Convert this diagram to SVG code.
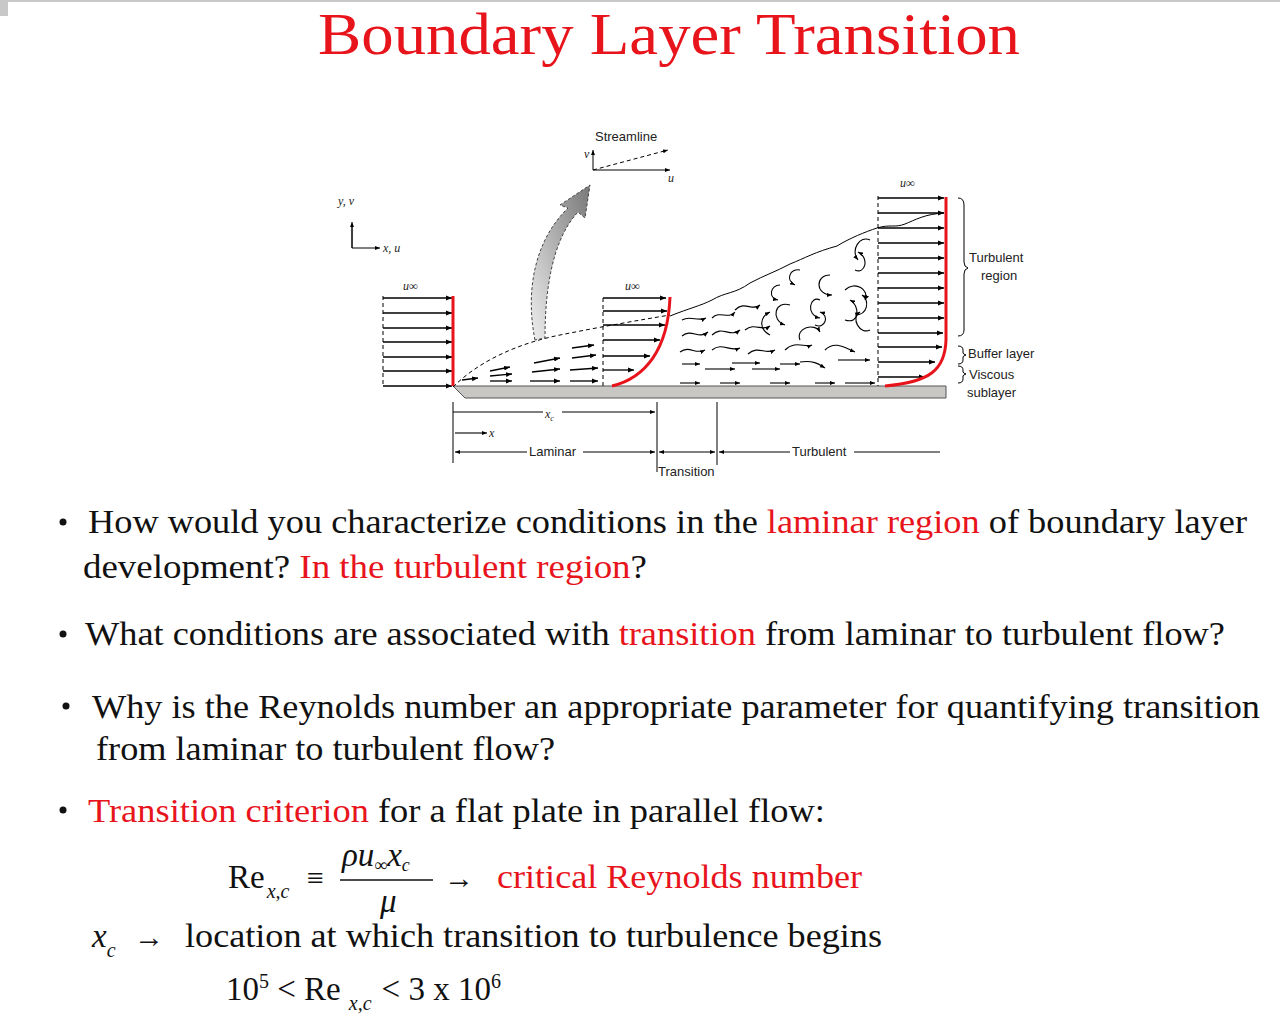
<svg xmlns="http://www.w3.org/2000/svg" width="1280" height="1019" viewBox="0 0 1280 1019">
<defs>
<marker id="ah" viewBox="0 0 10 10" refX="10" refY="5" markerWidth="6" markerHeight="6" orient="auto" markerUnits="userSpaceOnUse"><path d="M0,1 L10,5 L0,9 Z" fill="#000"/></marker>
<marker id="ahs" viewBox="0 0 10 10" refX="10" refY="5" markerWidth="5" markerHeight="5" orient="auto-start-reverse" markerUnits="userSpaceOnUse"><path d="M0,1 L10,5 L0,9 Z" fill="#000"/></marker>
<linearGradient id="g" x1="0" y1="1" x2="1" y2="0"><stop offset="0" stop-color="#eee"/><stop offset="1" stop-color="#777"/></linearGradient>
</defs>
<style>
.s{font-family:"Liberation Serif","Times New Roman",serif;font-size:33px;fill:#111}
.r{fill:#e8141c}
.f{font-family:"Liberation Sans",Arial,sans-serif;font-size:13px;fill:#222}
.fi{font-family:"Liberation Serif",serif;font-style:italic;font-size:12px;fill:#222}
.a{stroke:#000;stroke-width:1.3;fill:none;marker-end:url(#ah)}
.th{stroke:#000;stroke-width:1;fill:none}
.d{stroke:#000;stroke-width:1;fill:none;stroke-dasharray:4 3}
.red{stroke:#e8141c;stroke-width:3;fill:none}
.e{stroke:#000;stroke-width:1.1;fill:none;marker-end:url(#ahs)}
</style>
<rect width="1280" height="1019" fill="#fff"/>
<rect x="0" y="0" width="1280" height="2" fill="#c8c8c8"/>
<rect x="0" y="0" width="8" height="16" fill="#c8c8c8"/>
<text x="669" y="54" text-anchor="middle" font-family="Liberation Serif,serif" font-size="60" fill="#e8141c" id="title" textLength="702" lengthAdjust="spacingAndGlyphs">Boundary Layer Transition</text>

<g id="figure">
<g id="plate"><path d="M453,386 L946,386 L946,398 L465,398 Z" fill="#c9c7c4" stroke="#555" stroke-width="1"/></g>
<g id="axes">
<path class="th" d="M352,224 V248 H380" marker-end="url(#ahs)"/><path class="th" d="M352,248 V222" marker-end="url(#ahs)"/>
<text class="fi" x="338" y="205">y, v</text><text class="fi" x="383" y="252">x, u</text>
</g>
<g id="left-profile">
<line class="d" x1="383" y1="296" x2="383" y2="386"/>
<g class="a"><line x1="383" y1="298" x2="452" y2="298"/><line x1="383" y1="313" x2="452" y2="313"/><line x1="383" y1="328" x2="452" y2="328"/><line x1="383" y1="342" x2="452" y2="342"/><line x1="383" y1="357" x2="452" y2="357"/><line x1="383" y1="371" x2="452" y2="371"/><line x1="383" y1="386" x2="452" y2="386"/></g>
<line class="red" x1="453" y1="296" x2="453" y2="386"/>
<text class="fi" x="403" y="290">u∞</text>
</g>
<g id="bl-edge">
<path class="d" d="M453,387 C480,360 520,343 560,335 C600,327 640,320 670,315"/>
<path class="th" d="M670,316 C690,308 700,306 712,300 C725,292 735,294 750,283 C765,275 775,272 790,264 C805,258 815,252 837,246 C850,238 865,232 877,228 C890,224 895,228 905,224 C915,220 925,214 944,213"/>
</g>
<g id="laminar-arrows" class="a">
<line x1="462" y1="380" x2="478" y2="378"/><line x1="490" y1="381" x2="512" y2="381"/><line x1="490" y1="376" x2="512" y2="374"/><line x1="490" y1="371" x2="510" y2="367"/>
<line x1="530" y1="381" x2="560" y2="381"/><line x1="532" y1="372" x2="560" y2="369"/><line x1="534" y1="363" x2="560" y2="358"/>
<line x1="570" y1="381" x2="598" y2="381"/><line x1="570" y1="370" x2="598" y2="368"/><line x1="572" y1="358" x2="596" y2="355"/><line x1="572" y1="348" x2="594" y2="345"/>
</g>
<g id="mid-profile">
<line class="d" x1="603" y1="298" x2="603" y2="386"/>
<g class="a"><line x1="603" y1="298" x2="666" y2="298"/><line x1="603" y1="311" x2="667" y2="311"/><line x1="603" y1="325" x2="665" y2="325"/><line x1="603" y1="340" x2="660" y2="340"/><line x1="603" y1="356" x2="650" y2="356"/><line x1="603" y1="370" x2="634" y2="370"/></g>
<path class="red" d="M612,386 C645,378 668,350 670,297"/>
<text class="fi" x="625" y="290">u∞</text>
</g>
<g id="big-arrow"><path d="M535,340 C525,290 535,240 568,208 L560,205 L590,185 L585,218 L578,212 C552,240 545,290 545,338 Z" fill="url(#g)" stroke="#444" stroke-width="1" stroke-dasharray="3 2"/></g>
<g id="streamline-inset">
<path class="th" d="M593,170 V150" marker-end="url(#ahs)"/><path class="th" d="M593,170 H670" marker-end="url(#ahs)"/>
<path class="d" d="M593,170 L668,150" marker-end="url(#ahs)"/>
<text class="f" x="595" y="141" font-size="12">Streamline</text>
<text class="fi" x="584" y="158">v</text><text class="fi" x="668" y="182">u</text>
</g>
<g id="turbulent-flow" class="e" stroke-width="1.4">
<path d="M680,383 H700"/><path d="M720,383 H740"/><path d="M770,383 H790"/><path d="M815,383 H835"/><path d="M845,383 H875"/>
<path d="M682,364 H700"/><path d="M705,369 H735"/><path d="M732,363 H760"/><path d="M752,369 H780"/><path d="M780,364 H800"/><path d="M800,362 C815,360 820,365 825,368"/><path d="M838,360 H870"/>
<path d="M680,352 C690,345 695,355 705,350"/><path d="M712,350 C722,342 730,352 740,348"/><path d="M748,354 C758,345 765,355 775,350"/><path d="M785,350 C795,340 805,348 812,345"/><path d="M825,350 C835,340 845,348 855,352"/>
<path d="M682,336 C692,328 698,340 708,332"/><path d="M712,335 C722,325 730,338 740,330"/><path d="M745,330 C755,322 762,332 770,326"/>
<path d="M682,320 C690,315 698,322 706,318"/><path d="M712,318 C720,310 728,320 735,312"/><path d="M735,310 C745,300 752,312 760,305"/>
<path d="M770,335 C760,330 758,318 770,312"/><path d="M790,305 C775,300 770,320 785,325"/><path d="M800,340 C795,328 815,322 820,332"/><path d="M820,300 C810,295 805,315 820,318"/><path d="M845,320 C860,325 860,305 850,300"/><path d="M830,275 C815,275 815,295 832,295"/><path d="M855,270 C865,275 870,258 858,252"/><path d="M870,240 C860,235 850,250 858,260"/><path d="M870,330 C860,335 850,318 860,312"/><path d="M780,285 C770,285 768,298 778,300"/><path d="M845,290 C855,280 870,290 865,300"/><path d="M815,325 C825,330 830,315 820,312"/><path d="M800,270 C790,268 785,280 795,285"/><path d="M855,315 C868,315 870,300 862,295"/>
</g>
<g id="right-profile">
<line class="d" x1="878" y1="196" x2="878" y2="386"/>
<g class="a"><line x1="878" y1="198" x2="944" y2="198"/><line x1="878" y1="213" x2="944" y2="213"/><line x1="878" y1="228" x2="944" y2="228"/><line x1="878" y1="243" x2="944" y2="243"/><line x1="878" y1="258" x2="944" y2="258"/><line x1="878" y1="273" x2="944" y2="273"/><line x1="878" y1="288" x2="944" y2="288"/><line x1="878" y1="303" x2="944" y2="303"/><line x1="878" y1="318" x2="944" y2="318"/><line x1="878" y1="333" x2="943" y2="333"/><line x1="878" y1="347" x2="942" y2="347"/><line x1="878" y1="362" x2="935" y2="362"/><line x1="878" y1="377" x2="925" y2="377"/></g>
<path class="red" d="M885,386 C930,382 945,370 946,340 L946,197"/>
<text class="fi" x="900" y="187">u∞</text>
<path class="th" d="M958,198 Q964,198 964,205 V262 Q964,267 968,268 Q964,269 964,274 V330 Q964,336 958,336"/>
<path class="th" d="M958,346 Q963,346 963,350 V353 Q963,354 966,355 Q963,356 963,357 V360 Q963,364 958,364"/>
<path class="th" d="M958,366 Q963,366 963,370 V372 Q963,373 966,374 Q963,375 963,376 V379 Q963,383 958,383"/>
<text class="f" x="969" y="262">Turbulent</text><text class="f" x="981" y="280">region</text>
<text class="f" x="968" y="358">Buffer layer</text><text class="f" x="969" y="379">Viscous</text><text class="f" x="967" y="397">sublayer</text>
</g>
<g id="dimensions">
<line class="th" x1="453" y1="402" x2="453" y2="463"/><line class="th" x1="657" y1="402" x2="657" y2="472"/><line class="th" x1="717" y1="402" x2="717" y2="465"/>
<line class="th" x1="453" y1="412" x2="543" y2="412"/><line class="e" x1="562" y1="412" x2="655" y2="412"/>
<text class="fi" x="545" y="418">x<tspan font-size="8" dy="3">c</tspan></text>
<line class="e" x1="455" y1="433" x2="487" y2="433"/><text class="fi" x="489" y="437">x</text>
<line class="th" x1="455" y1="452" x2="527" y2="452" marker-start="url(#ahs)"/><line class="th" x1="583" y1="452" x2="655" y2="452" marker-end="url(#ahs)"/>
<text class="f" x="529" y="456" font-size="12">Laminar</text>
<line class="th" x1="659" y1="452" x2="715" y2="452" marker-start="url(#ahs)" marker-end="url(#ahs)"/>
<text class="f" x="658" y="476" font-size="12">Transition</text>
<line class="th" x1="719" y1="452" x2="790" y2="452" marker-start="url(#ahs)"/><line class="th" x1="854" y1="452" x2="940" y2="452"/>
<text class="f" x="792" y="456" font-size="12">Turbulent</text>
</g>
</g>

<g id="bullets" class="s">
<circle cx="63" cy="522" r="3.5" fill="#111"/><circle cx="63" cy="634" r="3.5" fill="#111"/><circle cx="66" cy="706" r="3.5" fill="#111"/><circle cx="63" cy="810" r="3.5" fill="#111"/>
<text x="88" y="533" textLength="1159" lengthAdjust="spacingAndGlyphs">How would you characterize conditions in the <tspan class="r">laminar region</tspan> of boundary layer</text>
<text x="83" y="578" textLength="564" lengthAdjust="spacingAndGlyphs">development?  <tspan class="r">In the turbulent region</tspan>?</text>
<text x="85" y="645" textLength="1140" lengthAdjust="spacingAndGlyphs">What conditions are associated with <tspan class="r">transition</tspan> from laminar to turbulent flow?</text>
<text x="92" y="718" textLength="1168" lengthAdjust="spacingAndGlyphs">Why is the Reynolds number an appropriate parameter for quantifying transition</text>
<text x="96" y="760" textLength="459" lengthAdjust="spacingAndGlyphs">from laminar to turbulent flow?</text>
<text x="88" y="822" textLength="737" lengthAdjust="spacingAndGlyphs"><tspan class="r">Transition criterion</tspan> for a flat plate in parallel flow:</text>
</g>
<g id="equations" class="s">
<text x="228" y="888">Re<tspan font-size="20" font-style="italic" dx="2" dy="10">x,c</tspan></text>
<text x="307" y="888" font-size="30">≡</text>
<text x="342" y="866" font-style="italic">ρu<tspan font-size="18" font-style="normal" dy="5">∞</tspan><tspan dy="-5">x</tspan><tspan font-size="18" dy="5">c</tspan></text>
<line x1="340" y1="880" x2="433" y2="880" stroke="#111" stroke-width="1.5"/>
<text x="380" y="912" font-style="italic">μ</text>
<text x="444" y="888" font-size="30">→</text>
<text x="497" y="888" class="s r" textLength="365" lengthAdjust="spacingAndGlyphs">critical Reynolds number</text>
<text x="92" y="947" font-style="italic">x<tspan font-size="20" dy="10">c</tspan></text>
<text x="134" y="947" font-size="30">→</text>
<text x="185" y="947" textLength="697" lengthAdjust="spacingAndGlyphs">location at which transition to turbulence begins</text>
<text x="226" y="1000">10<tspan font-size="20" dy="-12">5</tspan><tspan dy="12"> &lt; Re</tspan><tspan font-size="20" font-style="italic" dx="8" dy="10">x,c</tspan><tspan dx="10" dy="-10">&lt; 3 x 10</tspan><tspan font-size="20" dy="-12">6</tspan></text>
</g>
</svg>
